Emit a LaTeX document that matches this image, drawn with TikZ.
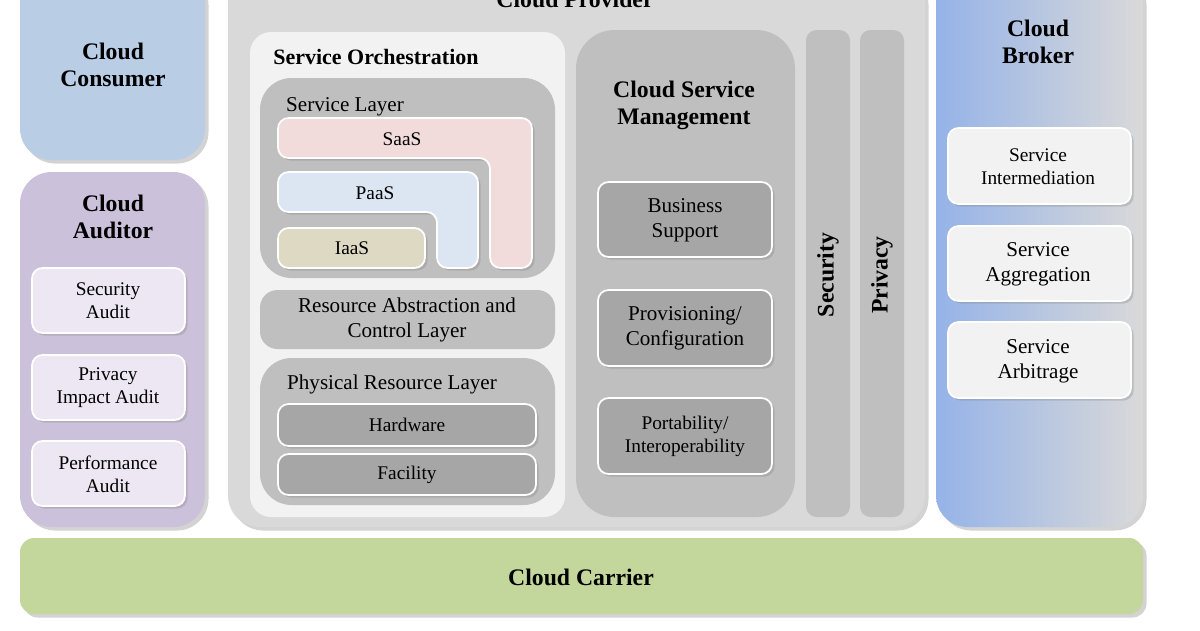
\documentclass[tikz,border=0pt]{standalone}
\usepackage{fontspec}
\setmainfont{Liberation Serif}
\usetikzlibrary{positioning, shadows}
\definecolor{consumer}{HTML}{B9CDE5}
\definecolor{auditor}{HTML}{CCC1DA}
\definecolor{auditbox}{HTML}{ECE7F2}
\definecolor{provider}{HTML}{D9D9D9}
\definecolor{orch}{HTML}{F2F2F2}
\definecolor{layer}{HTML}{BFBFBF}
\definecolor{inner}{HTML}{A6A6A6}
\definecolor{saas}{HTML}{F2DCDB}
\definecolor{paas}{HTML}{DCE6F2}
\definecolor{iaas}{HTML}{DDD9C3}
\definecolor{brokerL}{HTML}{95B3E8}
\definecolor{carrier}{HTML}{C3D69B}
\tikzset{
  panel/.style={rounded corners=18pt, drop shadow={opacity=0.35, shadow xshift=2pt, shadow yshift=-2pt}},
  card/.style={rounded corners=6pt, draw=white, line width=1pt, drop shadow={opacity=0.3, shadow xshift=1.5pt, shadow yshift=-1.5pt}},
  title/.style={font=\bfseries\fontsize{13.5}{15.5}\selectfont, align=center},
  label/.style={font=\fontsize{11}{13}\selectfont, align=center},
  biglabel/.style={font=\fontsize{12}{14}\selectfont, align=center}
}
\begin{document}
\begin{tikzpicture}[x=0.02cm, y=-0.02cm]
    \useasboundingbox (0,0) rectangle (1200,630);
    \clip (0,0) rectangle (1200,630);
    
    % Consumer and auditor
    \fill[consumer, panel] (20,-30) rectangle (205,160);
    \node[title] (consumer) at (113,65) {Cloud\\Consumer};
    \fill[auditor, panel] (20,172) rectangle (205,527);
    \node[title] (auditor) at (113,217) {Cloud\\Auditor};
    \fill[auditbox, card] (32,268) rectangle (185,333);
    \node[label] (secaudit) at (108,301) {Security\\Audit};
    \fill[auditbox, card] (32,355) rectangle (185,420);
    \node[label] (privaudit) at (108,388) {Privacy\\Impact Audit};
    \fill[auditbox, card] (32,441) rectangle (185,506);
    \node[label] (perfaudit) at (108,474) {Performance\\Audit};
    
    % Provider
    \fill[provider, panel] (228,-30) rectangle (925,527);
    \node[title] (provider) at (575,-1) {Cloud Provider};
    \fill[orch, rounded corners=12pt] (250,32) rectangle (565,517);
    \node[title, font=\bfseries\fontsize{12.5}{14}\selectfont] (orch) at (376,57) {Service Orchestration};
    \fill[layer, rounded corners=18pt] (260,78) rectangle (555,278);
    \node[biglabel] (servlayer) at (345,107) {Service Layer};
    \fill[saas, card] (278,118) -- (532,118) -- (532,268) -- (490,268) -- (490,158) -- (278,158) -- cycle;
    \node[label] (saas) at (402,139) {SaaS};
    \fill[paas, card] (278,172) -- (478,172) -- (478,268) -- (437,268) -- (437,212) -- (278,212) -- cycle;
    \node[label] (paas) at (375,193) {PaaS};
    \fill[iaas, card] (278,228) rectangle (425,268);
    \node[label] (iaas) at (352,248) {IaaS};
    \fill[layer, rounded corners=10pt] (260,290) rectangle (555,349);
    \node[biglabel] (abstraction) at (407,320) {Resource Abstraction and\\Control Layer};
    \fill[layer, rounded corners=18pt] (260,358) rectangle (555,505);
    \node[biglabel] (physical) at (392,384) {Physical Resource Layer};
    \fill[inner, card] (278,404) rectangle (536,446);
    \node[label] (hardware) at (407,425) {Hardware};
    \fill[inner, card] (278,454) rectangle (536,495);
    \node[label] (facility) at (407,475) {Facility};
    
    % Management
    \fill[layer, rounded corners=22pt] (576,30) rectangle (795,517);
    \node[title] (mgmt) at (684,105) {Cloud Service\\Management};
    \fill[inner, card] (598,182) rectangle (772,257);
    \node[biglabel] (business) at (685,220) {Business\\Support};
    \fill[inner, card] (598,290) rectangle (772,366);
    \node[biglabel] (provisioning) at (685,328) {Provisioning/\\Configuration};
    \fill[inner, card] (598,398) rectangle (772,474);
    \node[label] (portability) at (685,436) {Portability/\\Interoperability};
    \fill[layer, rounded corners=6pt] (806,30) rectangle (850,517);
    \node[title, rotate=90] (security) at (828,275) {Security};
    \fill[layer, rounded corners=6pt] (860,30) rectangle (904,517);
    \node[title, rotate=90] (privacy) at (882,275) {Privacy};
    
    % Broker
    \shade[left color=brokerL, right color=provider, panel] (936,-30) rectangle (1143,527);
    \node[title] (broker) at (1038,42) {Cloud\\Broker};
    \fill[orch, card] (948,128) rectangle (1131,204);
    \node[label] (intermediation) at (1038,167) {Service\\Intermediation};
    \fill[orch, card] (948,226) rectangle (1131,301);
    \node[biglabel] (aggregation) at (1038,264) {Service\\Aggregation};
    \fill[orch, card] (948,322) rectangle (1131,398);
    \node[biglabel] (arbitrage) at (1038,361) {Service\\Arbitrage};
    
    % Carrier
    \fill[carrier, rounded corners=8pt, drop shadow={opacity=0.35, shadow xshift=2pt, shadow yshift=-2pt}] (20,538) rectangle (1143,614);
    \node[title] (carrier) at (581,577) {Cloud Carrier};
\end{tikzpicture}
\end{document}
